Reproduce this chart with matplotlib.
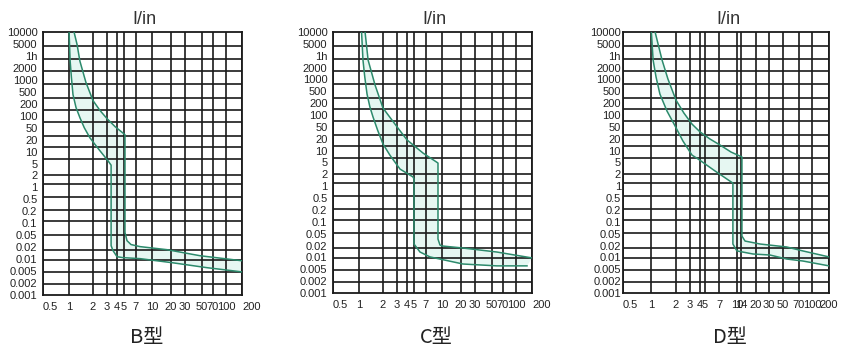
import numpy as np
import matplotlib
matplotlib.use("Agg")
import matplotlib.pyplot as plt
from matplotlib.ticker import FixedLocator, NullFormatter

plt.rcParams['font.family'] = ['Liberation Sans Narrow', 'Liberation Sans', 'DejaVu Sans']

# y 轴刻度（秒），1h = 3600 s
y_ticks = [10000, 5000, 3600, 2000, 1000, 500, 200, 100, 50, 20, 10, 5, 2, 1,
           0.5, 0.2, 0.1, 0.05, 0.02, 0.01, 0.005, 0.002, 0.001]
y_labels = ['10000', '5000', '1h', '2000', '1000', '500', '200', '100', '50', '20',
            '10', '5', '2', '1', '0.5', '0.2', '0.1', '0.05', '0.02', '0.01',
            '0.005', '0.002', '0.001']

# x 轴刻度（I/In 倍数）
x_ticks_bc = [0.5, 1, 2, 3, 4, 5, 7, 10, 20, 30, 50, 70, 100, 200]
x_ticks_d = [0.5, 1, 2, 3, 4, 5, 7, 10, 14, 20, 30, 50, 70, 100, 200]

# B 型
b_lo_x = [1.0, 1.03, 1.07, 1.12, 1.224, 1.37, 1.556, 1.83, 2.12, 2.45, 3.09, 3.37,
          3.37, 3.56, 4.0, 4.84, 7.65, 21, 58, 200]
b_lo_t = [10000, 2900, 1156, 405, 160, 89, 49.5, 23, 15.1, 10.4, 5.8, 4.4,
          0.0225, 0.0164, 0.0115, 0.0109, 0.0103, 0.0081, 0.0061, 0.0047]
b_up_x = [1.155, 1.26, 1.37, 1.63, 2.0, 2.45, 3.0, 3.78, 5.0, 5.14, 5.14, 5.44, 6.09, 7.65, 17.3, 47, 200]
b_up_t = [10000, 4950, 2780, 865, 256, 135, 84, 53, 31, 29, 0.0586, 0.033, 0.0245, 0.0209, 0.0173, 0.0122, 0.0091]

# C 型
c_lo_x = [1.075, 1.12, 1.18, 1.26, 1.37, 1.5, 1.716, 2.0, 2.45, 3.0, 3.27, 4.84, 5.0,
          5.0, 5.92, 7.65, 21.2, 58, 161]
c_lo_t = [10000, 2900, 1156, 405, 160, 89, 38.4, 14.8, 7.6, 4.1, 3.0, 1.72, 1.53,
          0.0225, 0.0137, 0.0103, 0.0068, 0.0061, 0.0061]
c_up_x = [1.19, 1.30, 1.59, 2.0, 3.0, 4.0, 6.44, 9.14, 9.14, 9.55, 10, 21.2, 58, 200]
c_up_t = [10000, 2900, 723, 151, 50, 18.7, 8.7, 4.8, 0.033, 0.0209, 0.0195, 0.0173, 0.0137, 0.0097]

# D 型
d_lo_x = [1.01, 1.06, 1.15, 1.28, 1.56, 1.95, 2.45, 3.18, 3.8, 6.36, 9.23,
          9.23, 10, 18.6, 31, 54, 78, 200]
d_lo_t = [10000, 2900, 1156, 405, 126, 53, 17.5, 7.7, 6.1, 2.6, 1.2,
          0.0225, 0.0146, 0.0122, 0.0115, 0.0091, 0.0081, 0.0061]
d_up_x = [1.12, 1.36, 1.60, 2.0, 2.52, 3.18, 4.0, 5.64, 7.14, 8.9, 14.3,
          14.3, 15.4, 22.7, 54, 78, 200]
d_up_t = [10000, 2900, 1030, 256, 112, 59, 34, 19.7, 13.9, 9.2, 6.9,
          0.0416, 0.0283, 0.0225, 0.0184, 0.0146, 0.0103]

# 版面：竖线在面板宽度中的位置，横线所在的刻度行
xpos_bc = [0, .131, .251, .322, .372, .407, .467, .548, .643, .714, .799, .854, .920, 1]
xpos_d = [0, .136, .257, .325, .374, .398, .466, .553, .573, .646, .709, .777, .854, .917, 1]
hgrid_rows = [1.18, 2.28, 3.29, 4.38, 5.56, 6.49, 7.50, 8.68, 9.61, 10.62, 11.97,
              12.73, 13.82, 14.92, 15.85, 16.94, 18.21, 19.05, 20.06, 21.07]

line_c = '#2c8a6c'
fill_c = '#e6f7f2'
grid_c = '#1a1a1a'

ly = -np.log10(y_ticks)
rows = np.arange(len(y_ticks))


def y_fwd(t):
    return np.interp(-np.log10(np.clip(t, 1e-9, None)), ly, rows)


def y_inv(r):
    return 10 ** (-np.interp(r, rows, ly))


def x_funcs(ticks, pos):
    lx = np.log10(ticks)
    fwd = lambda v: np.interp(np.log10(np.clip(v, 1e-9, None)), lx, pos)
    inv = lambda p: 10 ** np.interp(p, pos, lx)
    return fwd, inv


fig = plt.figure(figsize=(8.5, 3.6), dpi=100)

panels = [
    ('B型', [43, 242, 32, 295], x_ticks_bc, xpos_bc, b_lo_x, b_lo_t, b_up_x, b_up_t, 4, 'left'),
    ('C型', [333, 532, 32, 293], x_ticks_bc, xpos_bc, c_lo_x, c_lo_t, c_up_x, c_up_t, 4, 'left'),
    ('D型', [623, 829, 32, 293], x_ticks_d, xpos_d, d_lo_x, d_lo_t, d_up_x, d_up_t, 1.5, 'center'),
]

for name, (l, r, t, b), xt, xp, lox, lot, upx, upt, ypad, last_ha in panels:
    ax = fig.add_axes([l / 850, 1 - b / 360, (r - l) / 850, (b - t) / 360])
    ax.set_xscale('function', functions=x_funcs(xt, xp))
    ax.set_yscale('function', functions=(y_fwd, y_inv))
    ax.set_xlim(xt[0], xt[-1])
    ax.set_ylim(10000, 0.001)

    ax.fill(np.r_[upx, lox[::-1]], np.r_[upt, lot[::-1]], color=fill_c, lw=0, zorder=1)
    ax.plot(lox, lot, color=line_c, lw=1.1, zorder=3)
    ax.plot(upx, upt, color=line_c, lw=1.1, zorder=3)

    ax.set_xticks(xt, [f'{v:g}' for v in xt])
    ax.set_yticks(y_ticks, y_labels)
    ax.yaxis.set_minor_locator(FixedLocator(y_inv(np.array(hgrid_rows))))
    ax.yaxis.set_minor_formatter(NullFormatter())
    ax.xaxis.set_minor_locator(FixedLocator([]))
    xl = ax.get_xticklabels()
    xl[0].set_ha('left')
    xl[-1].set_ha(last_ha)

    ax.grid(True, axis='x', which='major', color=grid_c, lw=1.2)
    ax.grid(True, axis='y', which='minor', color=grid_c, lw=1.2)
    ax.set_axisbelow(False)
    ax.tick_params(which='both', length=0, labelsize=8, colors='#222222')
    ax.tick_params(axis='x', pad=5)
    ax.tick_params(axis='y', pad=ypad)
    for s in ax.spines.values():
        s.set_color(grid_c)
        s.set_linewidth(1.3)

    ax.text(0.51, 1 + 13 / (b - t), 'I/in', transform=ax.transAxes,
            ha='center', va='center', fontsize=13, color='#333333')
    ax.text(0.52, -(338 - b) / (b - t), name, transform=ax.transAxes,
            ha='center', va='center', fontsize=14.5, color='#222222',
            family=['Noto Sans CJK SC', 'DejaVu Sans'])

fig.savefig('out.png', dpi=100, facecolor='white')
